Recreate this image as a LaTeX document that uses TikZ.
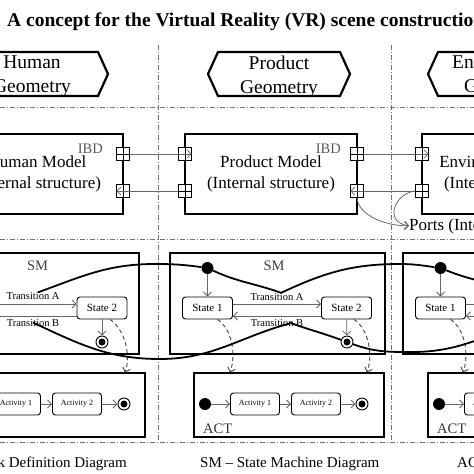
\documentclass[tikz,border=0pt]{standalone}
\usepackage{fontspec}
\setmainfont{Liberation Serif}
\usetikzlibrary{arrows.meta}
\tikzset{
  sep/.style={draw=black!55, line width=0.7pt, dash pattern=on 5pt off 2pt on 1pt off 2pt},
  geo/.style={draw, line width=2.2pt, line join=miter},
  geotext/.style={align=center, font=\fontsize{19.5}{24}\selectfont},
  ibdbox/.style={draw, line width=1.1pt, minimum width=172pt, minimum height=80pt, align=center, font=\fontsize{17}{21}\selectfont},
  smbox/.style={draw, line width=1.1pt, minimum width=215pt, minimum height=101pt},
  actbox/.style={draw, line width=1.1pt, minimum width=190pt, minimum height=64pt},
  tag/.style={font=\fontsize{14.5}{16}\selectfont, text=black!65},
  tlbl/.style={font=\fontsize{10.5}{12}\selectfont},
  caption/.style={font=\fontsize{15}{17}\selectfont},
  port/.style={draw, fill=white, rectangle, minimum size=12.5pt, line width=0.9pt,
    path picture={\draw[line width=0.7pt] (path picture bounding box.north) -- (path picture bounding box.south)
      (path picture bounding box.west) -- (path picture bounding box.east);}},
  state/.style={draw, rounded corners=3pt, line width=0.9pt, minimum width=50pt, minimum height=22pt, font=\fontsize{11}{12}\selectfont},
  activity/.style={draw, rounded corners=3pt, line width=0.9pt, minimum width=49pt, minimum height=22pt, font=\fontsize{8}{9}\selectfont},
  init/.style={circle, fill=black, minimum size=12pt},
  final/.style={circle, draw, line width=0.9pt, minimum size=12pt,
    path picture={\fill (path picture bounding box.center) circle (3.5pt);}},
  conn/.style={draw=black!60, line width=0.8pt, -{Straight Barb[length=4pt,width=8pt]}},
  dsh/.style={draw=black!75, line width=0.9pt, dash pattern=on 4pt off 3pt, -{Straight Barb[length=4pt,width=8pt]}},
  flow/.style={draw, line width=1.8pt}
}
\begin{document}
\begin{tikzpicture}[x=1pt, y=-1pt, every node/.append style={inner sep=0pt}]
\useasboundingbox (0,0) rectangle (474,474);
\clip (0,0) rectangle (474,474);
\node[anchor=base west, font=\bfseries\fontsize{19.5}{23}\selectfont] (title) at (7,26) {A concept for the Virtual Reality (VR) scene construction};
\draw[sep] (0,107) -- (474,107);
\draw[sep] (0,239) -- (474,239);
\draw[sep] (0,442) -- (474,442);
\draw[sep] (158,45) -- (158,442);
\draw[sep] (391,45) -- (391,442);
% geometry
\node[geotext] (hgeo) at (32,76.5) {Human\\Geometry};
\node[geotext] (pgeo) at (279,76.5) {Product\\Geometry};
\node[geotext] (egeo) at (503,76.5) {Environment\\Geometry};
\draw[geo] (-34,74) -- (-24,52) -- (98,52) -- (108,74) -- (98,96) -- (-24,96) -- cycle;
\draw[geo] (208,74) -- (218,52) -- (340,52) -- (350,74) -- (340,96) -- (218,96) -- cycle;
\draw[geo] (428,74) -- (438,52) -- (560,52) -- (570,74) -- (560,96) -- (438,96) -- cycle;
% IBD
\node[ibdbox] (hibd) at (37,174) {Human Model\\(Internal structure)};
\node[ibdbox] (pibd) at (271,174) {Product Model\\(Internal structure)};
\node[ibdbox] (eibd) at (508,174) {Environment Model\\(Internal structure)};
\node[tag, anchor=base east] (hibdl) at (103,153) {IBD};
\node[tag, anchor=base east] (pibdl) at (341,153) {IBD};
\node[port] (hp1) at (123,154) {};
\node[port] (hp2) at (123,191) {};
\node[port] (pp1) at (185,154) {};
\node[port] (pp2) at (185,191) {};
\node[port] (pp3) at (357,154) {};
\node[port] (pp4) at (357,191) {};
\node[port] (ep1) at (422,154) {};
\node[port] (ep2) at (422,191) {};
\draw[conn] (hp1.east) -- (pp1.east);
\draw[conn] (pp2.west) -- (hp2.west);
\draw[conn] (pp3.east) -- (ep1.east);
\draw[conn] (ep2.west) -- (pp4.west);
\node[anchor=base west, font=\fontsize{17}{20}\selectfont] (ports) at (409,230) {Ports (Interfaces)};
\draw[conn] (pp4.south) .. controls (358,215) and (385,226) .. (ports.west);
\draw[conn] (ep2.west) .. controls (395,193) and (383,222) .. (ports.west);
% SM
\node[smbox] (hsm) at (31.5,303.5) {};
\node[smbox] (psm) at (277.5,303.5) {};
\node[smbox] (esm) at (510.5,303.5) {};
\node[tag, text=black!75, anchor=base] (hsml) at (37.5,270) {SM};
\node[tag, text=black!75, anchor=base] (psml) at (274,270) {SM};
\node[init] (pini) at (207.5,268) {};
\node[init] (eini) at (440.5,268) {};
\node[state] (hs2) at (102,308) {State 2};
\node[state] (ps1) at (207.5,308) {State 1};
\node[state] (ps2) at (346.5,308) {State 2};
\node[state] (es1) at (440.5,308) {State 1};
\node[final] (hfin) at (102,342) {};
\node[final] (pfin) at (347,342) {};
\coordinate (hl1) at (-10,304);
\coordinate (hl2) at (-10,316);
\coordinate (er1) at (484,304);
\coordinate (er2) at (484,316);
\draw[conn] (pini) -- (ps1);
\draw[conn] (eini) -- (es1);
\draw[conn] (hs2) -- (hfin);
\draw[conn] (ps2) -- (pfin);
\draw[conn] (hl1) -- ([yshift=4pt]hs2.west);
\draw[conn] ([yshift=-8pt]hs2.west) -- (hl2);
\draw[conn] ([yshift=4pt]ps1.east) -- ([yshift=4pt]ps2.west);
\draw[conn] ([yshift=-8pt]ps2.west) -- ([yshift=-8pt]ps1.east);
\draw[conn] ([yshift=4pt]es1.east) -- (er1);
\draw[conn] (er2) -- ([yshift=-8pt]es1.east);
\node[tlbl, anchor=base] (hta) at (33,299.5) {Transition A};
\node[tlbl, anchor=base] (htb) at (33,326) {Transition B};
\node[tlbl, anchor=base] (pta) at (277,300) {Transition A};
\node[tlbl, anchor=base] (ptb) at (277,326.5) {Transition B};
% ACT
\node[actbox] (hact) at (50,405) {};
\node[actbox] (pact) at (289,405) {};
\node[actbox] (eact) at (523,405) {};
\node[tag, text=black!80, anchor=base west] (pactl) at (203,433) {ACT};
\node[tag, text=black!80, anchor=base west] (eactl) at (437,433) {ACT};
\node[activity] (ha1) at (16,404) {Activity 1};
\node[activity] (ha2) at (77,404) {Activity 2};
\node[final] (hafin) at (124,404) {};
\node[init] (paini) at (205,404) {};
\node[activity] (pa1) at (255,404) {Activity 1};
\node[activity] (pa2) at (316,404) {Activity 2};
\node[final] (pafin) at (362,404) {};
\node[init] (eaini) at (439,404) {};
\node[activity] (ea1) at (489,404) {Activity 1};
\draw[conn] (ha1) -- (ha2);
\draw[conn] (ha2) -- (hafin);
\draw[conn] (paini) -- (pa1);
\draw[conn] (pa1) -- (pa2);
\draw[conn] (pa2) -- (pafin);
\draw[conn] (eaini) -- (ea1);
\draw[dsh] ([xshift=8pt]hs2.south) .. controls +(15,10) and +(6,-17) .. ([xshift=75pt]hact.north);
\draw[dsh] ([xshift=10pt]ps1.south) .. controls +(15,10) and +(6,-17) .. ([xshift=-59pt]pact.north);
\draw[dsh] ([xshift=7.5pt]ps2.south) .. controls +(15,10) and +(6,-17) .. ([xshift=78pt]pact.north);
\draw[dsh] ([xshift=10pt]es1.south) .. controls +(15,10) and +(6,-17) .. ([xshift=-60pt]eact.north);
% scene links
\draw[flow] ([xshift=5pt]hta.north) to[out=20,in=180] (155,264) to[out=0,in=172] (pini)
  to[out=-25,in=160] ([xshift=4pt]pta.north) to[out=25,in=180] (400,264) to[out=0,in=172] (eini)
  to[out=-22,in=160] (514,291);
\draw[flow] (htb.center) to[out=-25,in=180] (160,359) to[out=0,in=195] ([xshift=14pt]ptb.center)
  to[out=-20,in=160] (pfin) to[out=-20,in=180] (412,352) to[out=0,in=200] (524,322);
% captions
\node[caption, anchor=base east] (hcap) at (127,467) {BDD – Block Definition Diagram};
\node[caption, anchor=base west] (pcap) at (200,467) {SM – State Machine Diagram};
\node[caption, anchor=base west] (ecap) at (457,467) {ACT – Activity Diagram};
\end{tikzpicture}
\end{document}
